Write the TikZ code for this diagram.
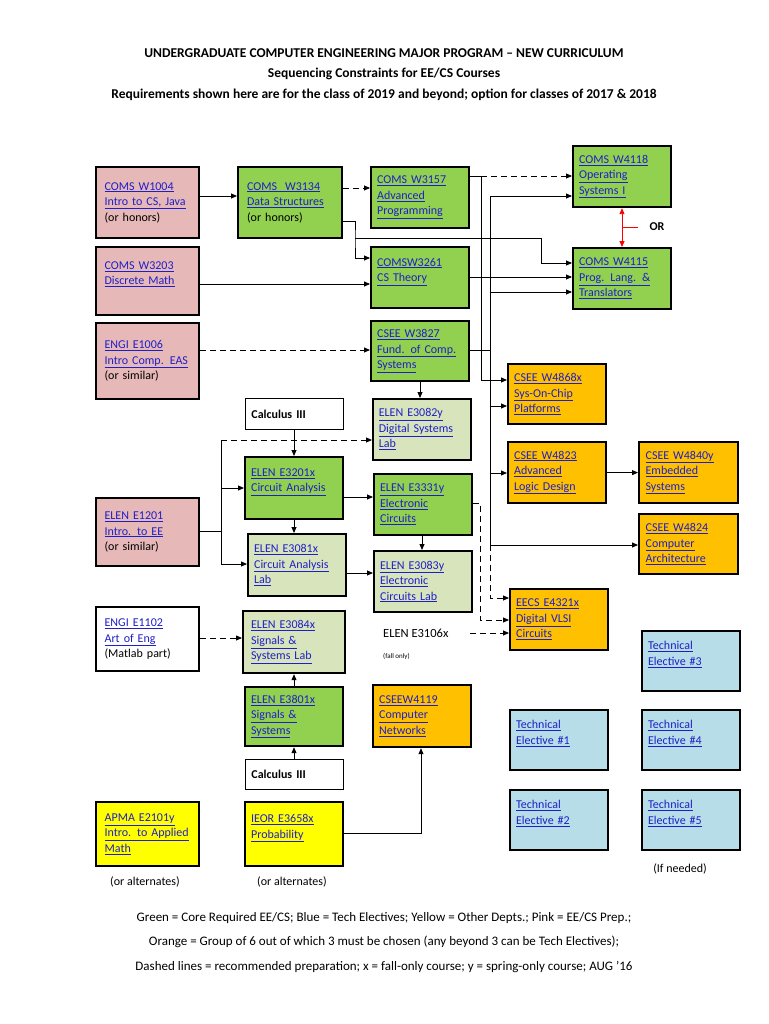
\documentclass[tikz,border=0pt]{standalone}
\usepackage{fontspec}
\setmainfont{Carlito}
\usetikzlibrary{arrows.meta}
\definecolor{pinkbox}{HTML}{E6B8B7}
\definecolor{greenbox}{HTML}{92D050}
\definecolor{lgreenbox}{HTML}{D8E4BC}
\definecolor{orangebox}{HTML}{FFC000}
\definecolor{yellowbox}{HTML}{FFFF00}
\definecolor{bluebox}{HTML}{B7DEE8}
\definecolor{linkblue}{HTML}{1F1FC8}
\newcommand{\lnk}[1]{\textcolor{linkblue}{\underline{#1}}}
\tikzset{
  box/.style={draw, line width=2.2pt, anchor=north west, align=left, inner xsep=6pt,
    text width=86pt, font=\fontsize{12}{15.5}\selectfont},
  thin/.style={box, line width=0.8pt},
  pre/.style={-{Triangle[length=6pt,width=5pt]}, line width=0.8pt},
  rec/.style={pre, dash pattern=on 6pt off 4pt},
  wire/.style={line width=0.8pt},
  head/.style={font=\bfseries\fontsize{13.5}{16}\selectfont},
  key/.style={font=\fontsize{13}{16}\selectfont},
}
\begin{document}
\begin{tikzpicture}[x=1pt,y=-1pt]
        \useasboundingbox (0,0) rectangle (768,1024);
        % heading
        \node[head] (t1) at (384,53) {UNDERGRADUATE COMPUTER ENGINEERING MAJOR PROGRAM -- NEW CURRICULUM};
        \node[head] (t2) at (384,74) {Sequencing Constraints for EE/CS Courses};
        \node[head] (t3) at (384,95) {Requirements shown here are for the class of 2019 and beyond; option for classes of 2017 \& 2018};
        % left column
        \node[box, fill=pinkbox, minimum width=103, minimum height=71] (w1004) at (95,166) {\lnk{COMS W1004}\\\lnk{Intro to CS, Java}\\(or honors)};
        \node[box, fill=pinkbox, minimum width=103, minimum height=68] (w3203) at (95,246) {\lnk{COMS W3203}\\\lnk{Discrete Math}\\\mbox{}};
        \node[box, fill=pinkbox, minimum width=103, minimum height=76] (e1006) at (95,322) {\lnk{ENGI E1006}\\\lnk{Intro Comp. EAS}\\(or similar)};
        \node[box, fill=pinkbox, minimum width=103, minimum height=68] (e1201) at (95,497) {\lnk{ELEN E1201}\\\lnk{Intro. to EE}\\(or similar)};
        \node[box, fill=white, minimum width=103, minimum height=64] (e1102) at (95,606) {\lnk{ENGI E1102}\\\lnk{Art of Eng}\\(Matlab part)};
        \node[box, fill=yellowbox, minimum width=103, minimum height=64] (apma) at (95,801) {\lnk{APMA E2101y}\\\lnk{Intro. to Applied}\\\lnk{Math}};
        % second column
        \node[box, fill=greenbox, minimum width=104, minimum height=71] (w3134) at (237,166) {\lnk{COMS\ \ W3134}\\\lnk{Data Structures}\\(or honors)};
        \node[thin, fill=white, minimum width=98, minimum height=31] (calcA) at (245,398) {\bfseries Calculus III};
        \node[box, fill=greenbox, minimum width=98, minimum height=62] (e3201) at (244,456) {\lnk{ELEN E3201x}\\\lnk{Circuit Analysis}\\\mbox{}};
        \node[box, fill=lgreenbox, minimum width=97, minimum height=62] (e3081) at (247,533) {\lnk{ELEN E3081x}\\\lnk{Circuit Analysis}\\\lnk{Lab}};
        \node[box, fill=lgreenbox, minimum width=102, minimum height=62] (e3084) at (242,610) {\lnk{ELEN E3084x}\\\lnk{Signals \&}\\\lnk{Systems Lab}};
        \node[box, fill=greenbox, minimum width=98, minimum height=59] (e3801) at (244,686) {\lnk{ELEN E3801x}\\\lnk{Signals \&}\\\lnk{Systems}};
        \node[thin, fill=white, minimum width=98, minimum height=30] (calcB) at (245,759) {\bfseries Calculus III};
        \node[box, fill=yellowbox, minimum width=98, minimum height=64] (ieor) at (244,801) {\lnk{IEOR E3658x}\\\lnk{Probability}\\\mbox{}};
        % third column
        \node[box, fill=greenbox, minimum width=97, minimum height=61] (w3157) at (370,166) {\lnk{COMS W3157}\\\lnk{Advanced}\\\lnk{Programming}};
        \node[box, fill=greenbox, minimum width=97, minimum height=61] (w3261) at (370,246) {\lnk{COMSW3261}\\\lnk{CS Theory}\\\mbox{}};
        \node[box, fill=greenbox, minimum width=98, minimum height=60] (w3827) at (370,320) {\lnk{CSEE W3827}\\\lnk{Fund. of Comp.}\\\lnk{Systems}};
        \node[box, line width=1.6pt, fill=lgreenbox, minimum width=96, minimum height=61] (e3082) at (372,398) {\lnk{ELEN E3082y}\\\lnk{Digital Systems}\\\lnk{Lab}};
        \node[box, fill=greenbox, minimum width=97, minimum height=61] (e3331) at (373,473) {\lnk{ELEN E3331y}\\\lnk{Electronic}\\\lnk{Circuits}};
        \node[box, fill=lgreenbox, minimum width=97, minimum height=61] (e3083) at (373,550) {\lnk{ELEN E3083y}\\\lnk{Electronic}\\\lnk{Circuits Lab}};
        \node[anchor=west, font=\fontsize{12.5}{14}\selectfont, inner sep=0pt] (e3106) at (383,633) {ELEN E3106x};
        \node[anchor=west, font=\fontsize{7}{8}\selectfont, inner sep=0pt] (fall) at (383,656) {(fall only)};
        \node[box, fill=orangebox, minimum width=96, minimum height=62] (w4119) at (372,684) {\lnk{CSEEW4119}\\\lnk{Computer}\\\lnk{Networks}};
        % right columns
        \node[box, fill=greenbox, minimum width=98, minimum height=61] (w4118) at (572,145) {\lnk{COMS W4118}\\\lnk{Operating}\\\lnk{Systems I}};
        \node[box, fill=greenbox, minimum width=98, minimum height=61] (w4115) at (572,247) {\lnk{COMS W4115}\\\lnk{Prog. Lang. \&}\\\lnk{Translators}};
        \node[box, fill=orangebox, minimum width=98, minimum height=60] (w4868) at (507,363) {\lnk{CSEE W4868x}\\\lnk{Sys-On-Chip}\\\lnk{Platforms}};
        \node[box, fill=orangebox, minimum width=98, minimum height=61] (w4823) at (507,441) {\lnk{CSEE W4823}\\\lnk{Advanced}\\\lnk{Logic Design}};
        \node[box, fill=orangebox, minimum width=99, minimum height=61] (w4840) at (638,441) {\lnk{CSEE W4840y}\\\lnk{Embedded}\\\lnk{Systems}};
        \node[box, fill=orangebox, minimum width=99, minimum height=60] (w4824) at (638,513) {\lnk{CSEE W4824}\\\lnk{Computer}\\\lnk{Architecture}};
        \node[box, fill=orangebox, minimum width=98, minimum height=61] (e4321) at (509,588) {\lnk{EECS E4321x}\\\lnk{Digital VLSI}\\\lnk{Circuits}};
        \node[box, fill=bluebox, minimum width=97, minimum height=60] (tech3) at (641,630) {\lnk{Technical}\\\lnk{Elective \#3}\\\mbox{}};
        \node[box, fill=bluebox, minimum width=97, minimum height=60] (tech1) at (509,709) {\lnk{Technical}\\\lnk{Elective \#1}\\\mbox{}};
        \node[box, fill=bluebox, minimum width=97, minimum height=60] (tech4) at (641,709) {\lnk{Technical}\\\lnk{Elective \#4}\\\mbox{}};
        \node[box, fill=bluebox, minimum width=97, minimum height=60] (tech2) at (509,789) {\lnk{Technical}\\\lnk{Elective \#2}\\\mbox{}};
        \node[box, fill=bluebox, minimum width=97, minimum height=60] (tech5) at (641,789) {\lnk{Technical}\\\lnk{Elective \#5}\\\mbox{}};
        \node[font=\fontsize{12}{14}\selectfont] (need) at (680,869) {(If needed)};
        \node[font=\fontsize{12}{14}\selectfont] (altA) at (145,882) {(or alternates)};
        \node[font=\fontsize{12}{14}\selectfont] (altB) at (292,882) {(or alternates)};
        \node[font=\bfseries\fontsize{12}{14}\selectfont] (or) at (657,227) {OR};
        % junctions
        \coordinate (jA) at (355,238);
        \coordinate (busA) at (481,176);
        \coordinate (busB) at (490,196);
        \coordinate (jE) at (221,531);
        \coordinate (fallA) at (470,633);
        % top connectors
        \draw[pre] (w1004.east |- 0,196) -- (w3134.west |- 0,196);
        \draw[rec] (w3134.east |- 0,188) -- (w3157.west |- 0,188);
        \draw[pre] (w3134.east |- 0,221) -| (jA) |- (w3261.west |- 0,258);
        \draw[pre] (jA) -- (541,238) |- (w4115.west |- 0,263);
        \draw[pre] (w3203.east |- 0,284) -- (w3261.west |- 0,284);
        \draw[rec] (e1006.east |- 0,350) -- (w3827.west |- 0,350);
        \draw[wire] (w3157.east |- 0,176) -- (busA);
        \draw[rec] (busA) -- (w4118.west |- 0,176);
        \draw[pre] (busA) |- (w4868.west |- 0,380);
        \draw[pre] (busB) -- (w4118.west |- 0,196);
        \draw[pre] (busB) |- (w4824.west |- 0,545);
        \foreach \y/\dst in {292/w4115, 406/w4868, 473/w4823}
          \draw[pre] (490,\y) -- (\dst.west |- 0,\y);
        \draw[pre] (w3261.east |- 0,277) -- (w4115.west |- 0,277);
        \draw[wire] (w3827.east |- 0,350) -- (490,350);
        \draw[pre] (w4823) -- (w4840);
        \draw[red, line width=0.9pt, {Triangle[length=6pt,width=5pt]}-{Triangle[length=6pt,width=5pt]}] (w4118.south -| 622,0) -- (w4115.north -| 622,0);
        \draw[red, line width=0.9pt] (622,227) -- (638,227);
        % EE connectors
        \draw[pre] (w3827.south -| 420,0) -- (e3082.north -| 420,0);
        \draw[pre] (calcA.south -| 294,0) -- (e3201.north -| 294,0);
        \draw[wire] (e1201.east |- jE) -- (jE);
        \draw[wire] (221,440) -- (221,564);
        \draw[rec] (221,440) -- (e3082.west |- 0,440);
        \draw[pre] (221,488) -- (e3201.west |- 0,488);
        \draw[pre] (221,564) -- (e3081.west |- 0,564);
        \draw[pre] (e3201.south -| 294,0) -- (e3081.north -| 294,0);
        \draw[pre] (e3201.east |- 0,497) -- (e3331.west |- 0,497);
        \draw[pre] (e3331.south -| 422,0) -- (e3083.north -| 422,0);
        \draw[pre] (e3081.east |- 0,573) -- (e3083.west |- 0,573);
        \draw[rec] (e3331.east |- 0,503) -- (480,503) |- (e4321.west |- 0,620);
        \draw[rec] (490,545) |- (e4321.west |- 0,598);
        \draw[rec] (fallA) -- (e4321.west |- fallA);
        \draw[rec] (e1102.east |- 0,638) -- (e3084.west |- 0,638);
        \draw[pre] (e3801.north -| 294,0) -- (e3084.south -| 294,0);
        \draw[pre] (calcB.north -| 294,0) -- (e3801.south -| 294,0);
        \draw[pre] (ieor.east |- 0,833) -| (w4119.south -| 421,0);
        % legend
        \node[key] (k1) at (384,918) {Green = Core Required EE/CS; Blue = Tech Electives; Yellow = Other Depts.; Pink = EE/CS Prep.;};
        \node[key] (k2) at (384,942) {Orange = Group of 6 out of which 3 must be chosen (any beyond 3 can be Tech Electives);};
        \node[key] (k3) at (384,967) {Dashed lines = recommended preparation; x = fall-only course; y = spring-only course; AUG '16};
\end{tikzpicture}
\end{document}
